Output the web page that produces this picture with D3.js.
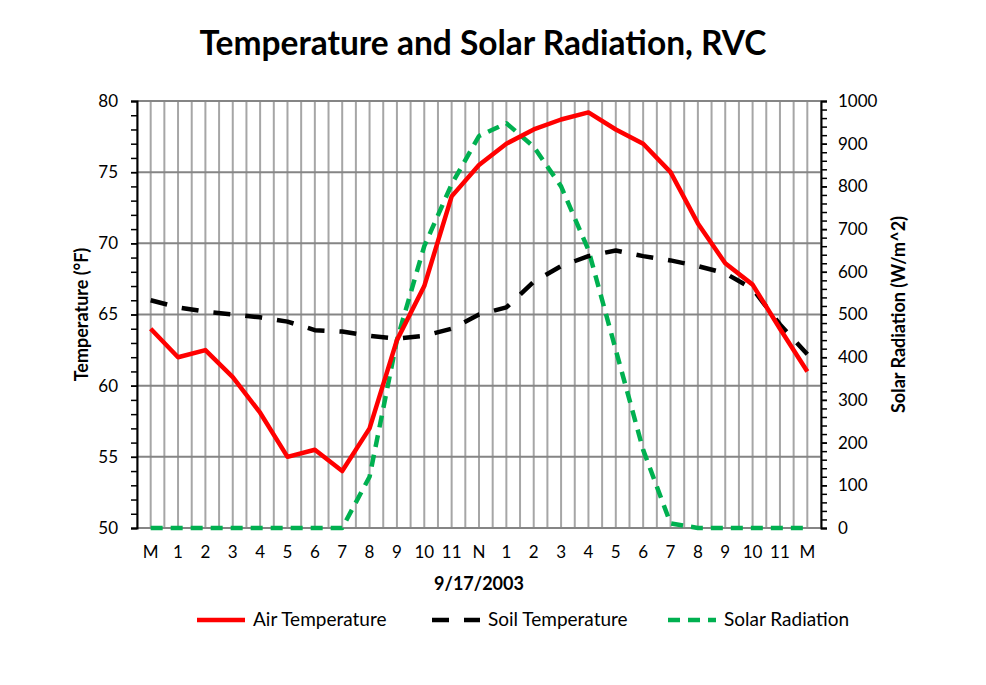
<!DOCTYPE html>
<html>
<head>
<meta charset="utf-8">
<script src="https://cdn.jsdelivr.net/npm/d3@7"></script>
<style>
  body { margin: 0; background: #fff; }
  svg { font-family: Lato, "Open Sans", sans-serif; }
</style>
</head>
<body>
<div id="chart"></div>
<script>
const hourLabels = ["M","1","2","3","4","5","6","7","8","9","10","11","N","1","2","3","4","5","6","7","8","9","10","11","M"];
const airTemp = [64.0, 62.0, 62.5, 60.6, 58.1, 55.0, 55.5, 54.0, 57.0, 63.2, 67.0, 73.3, 75.5, 77.0, 78.0, 78.7, 79.2, 78.0, 77.0, 75.0, 71.4, 68.6, 67.1, 64.0, 61.0];
const soilTemp = [66.0, 65.5, 65.2, 65.0, 64.8, 64.5, 63.9, 63.8, 63.5, 63.3, 63.5, 64.0, 65.0, 65.5, 67.3, 68.4, 69.1, 69.5, 69.1, 68.8, 68.4, 67.9, 66.8, 64.3, 62.2];
const solarRad = [0, 0, 0, 0, 0, 0, 0, 0, 120, 440, 660, 805, 918, 948, 893, 800, 651, 417, 183, 11, 0, 0, 0, 0, 0];
const tempTicks = [50, 55, 60, 65, 70, 75, 80];
const radTicks = [0, 100, 200, 300, 400, 500, 600, 700, 800, 900, 1000];

const W = 986, H = 685;
const margin = {top: 101, right: 165, bottom: 157, left: 137};
const width = W - margin.left - margin.right;
const height = H - margin.top - margin.bottom;

const svg = d3.select("#chart").append("svg")
    .attr("width", W)
    .attr("height", H);

const g = svg.append("g")
    .attr("transform", `translate(${margin.left},${margin.top})`);

const x = d3.scaleBand().domain(d3.range(hourLabels.length)).range([0, width]).padding(0);
const xc = i => x(i) + x.bandwidth() / 2;
const yT = d3.scaleLinear().domain([50, 80]).range([height, 0]);
const yR = d3.scaleLinear().domain([0, 1000]).range([height, 0]);

// vertical gridlines every half category
const halfSteps = d3.range(0, hourLabels.length * 2 + 1);
g.append("g").selectAll("line")
    .data(halfSteps)
    .join("line")
    .attr("x1", d => d * x.bandwidth() / 2)
    .attr("x2", d => d * x.bandwidth() / 2)
    .attr("y1", 0)
    .attr("y2", height)
    .attr("stroke", "#a6a6a6")
    .attr("stroke-width", 2);

// horizontal gridlines
g.append("g").selectAll("line")
    .data(tempTicks)
    .join("line")
    .attr("x1", 0)
    .attr("x2", width)
    .attr("y1", d => yT(d))
    .attr("y2", d => yT(d))
    .attr("stroke", "#858585")
    .attr("stroke-width", 2);

// x axis labels
const xAxis = g.append("g")
    .attr("transform", `translate(0,${height})`)
    .call(d3.axisBottom(x).tickSize(0).tickPadding(18).tickFormat(i => hourLabels[i]));
xAxis.select(".domain").remove();
xAxis.selectAll("text").attr("font-size", 17).attr("fill", "#000").attr("font-family", "Lato, sans-serif");

// left axis
const leftMinor = g.append("g")
    .call(d3.axisLeft(yT).tickValues(d3.range(50, 81, 1)).tickSize(6).tickFormat(""));
leftMinor.select(".domain").remove();
leftMinor.selectAll("line").attr("stroke", "#000").attr("stroke-width", 1.5);
const leftAxis = g.append("g")
    .call(d3.axisLeft(yT).tickValues(tempTicks).tickSize(6).tickPadding(13));
leftAxis.select(".domain").attr("stroke", "#000").attr("stroke-width", 2);
leftAxis.selectAll("line").attr("stroke", "#000").attr("stroke-width", 1.5);
leftAxis.selectAll("text").attr("font-size", 17).attr("fill", "#000").attr("font-family", "Lato, sans-serif");

// right axis
const rightMinor = g.append("g")
    .attr("transform", `translate(${width},0)`)
    .call(d3.axisRight(yR).tickValues(d3.range(0, 1001, 20)).tickSize(6).tickFormat(""));
rightMinor.select(".domain").remove();
rightMinor.selectAll("line").attr("stroke", "#000").attr("stroke-width", 1.5);
const rightAxis = g.append("g")
    .attr("transform", `translate(${width},0)`)
    .call(d3.axisRight(yR).tickValues(radTicks).tickSize(6).tickPadding(11).tickFormat(d3.format("d")));
rightAxis.select(".domain").attr("stroke", "#000").attr("stroke-width", 2);
rightAxis.selectAll("line").attr("stroke", "#000").attr("stroke-width", 1.5);
rightAxis.selectAll("text").attr("font-size", 17).attr("fill", "#000").attr("font-family", "Lato, sans-serif");

// series
const series = [
    {name: "Air Temperature", values: airTemp, scale: yT, color: "#ff0000", dash: null},
    {name: "Soil Temperature", values: soilTemp, scale: yT, color: "#000000", dash: "17,15"},
    {name: "Solar Radiation", values: solarRad, scale: yR, color: "#00b050", dash: "12,8"}
];

// draw order: solar, soil, air
[series[2], series[1], series[0]].forEach(s => {
    const line = d3.line()
        .x((d, i) => xc(i))
        .y(d => s.scale(d));
    g.append("path")
        .datum(s.values)
        .attr("d", line)
        .attr("fill", "none")
        .attr("stroke", s.color)
        .attr("stroke-width", 4.5)
        .attr("stroke-linejoin", "round")
        .attr("stroke-dasharray", s.dash);
});

// title
svg.append("text")
    .attr("x", 483)
    .attr("y", 55)
    .attr("text-anchor", "middle")
    .attr("font-size", 33.5)
    .attr("font-weight", "bold")
    .text("Temperature and Solar Radiation, RVC");

// axis titles
svg.append("text")
    .attr("transform", `translate(88,${margin.top + height / 2}) rotate(-90)`)
    .attr("text-anchor", "middle")
    .attr("font-size", 18)
    .attr("font-weight", "bold")
    .text("Temperature (°F)");

svg.append("text")
    .attr("transform", `translate(905,${margin.top + height / 2}) rotate(-90)`)
    .attr("text-anchor", "middle")
    .attr("font-size", 18)
    .attr("font-weight", "bold")
    .text("Solar Radiation (W/m^2)");

svg.append("text")
    .attr("x", margin.left + xc(12))
    .attr("y", 590)
    .attr("text-anchor", "middle")
    .attr("font-size", 18)
    .attr("font-weight", "bold")
    .text("9/17/2003");

// legend
const legendX = [197, 432, 668];
const legend = svg.append("g").attr("transform", "translate(0,620)");
series.forEach((s, i) => {
    legend.append("line")
        .attr("x1", legendX[i])
        .attr("x2", legendX[i] + 48)
        .attr("y1", 0)
        .attr("y2", 0)
        .attr("stroke", s.color)
        .attr("stroke-width", 4.5)
        .attr("stroke-dasharray", s.dash);
    legend.append("text")
        .attr("x", legendX[i] + 56)
        .attr("y", 6)
        .attr("font-size", 19)
        .text(s.name);
});
</script>
</body>
</html>
